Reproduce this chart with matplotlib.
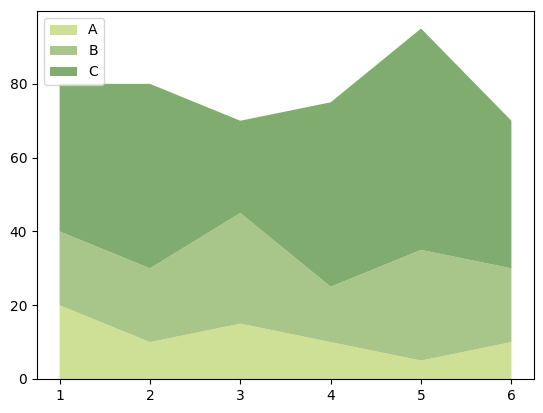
import numpy as np
import matplotlib.pyplot as plt

x = [1, 2, 3, 4, 5, 6]
series_a = [20, 10, 15, 10, 5, 10]
series_b = [20, 20, 30, 15, 30, 20]
series_c = [40, 50, 25, 50, 60, 40]
labels = ['A', 'B', 'C']
colors = ['#cde096', '#a8c68a', '#80ac70']

fig = plt.figure(figsize=(5.43, 4.13), dpi=100)
ax = fig.add_axes([37 / 543, 34 / 413, 497 / 543, 368 / 413])
ax.stackplot(x, series_a, series_b, series_c, labels=labels, colors=colors)
ax.legend(loc='upper left')

fig.savefig('out.png', dpi=100)
